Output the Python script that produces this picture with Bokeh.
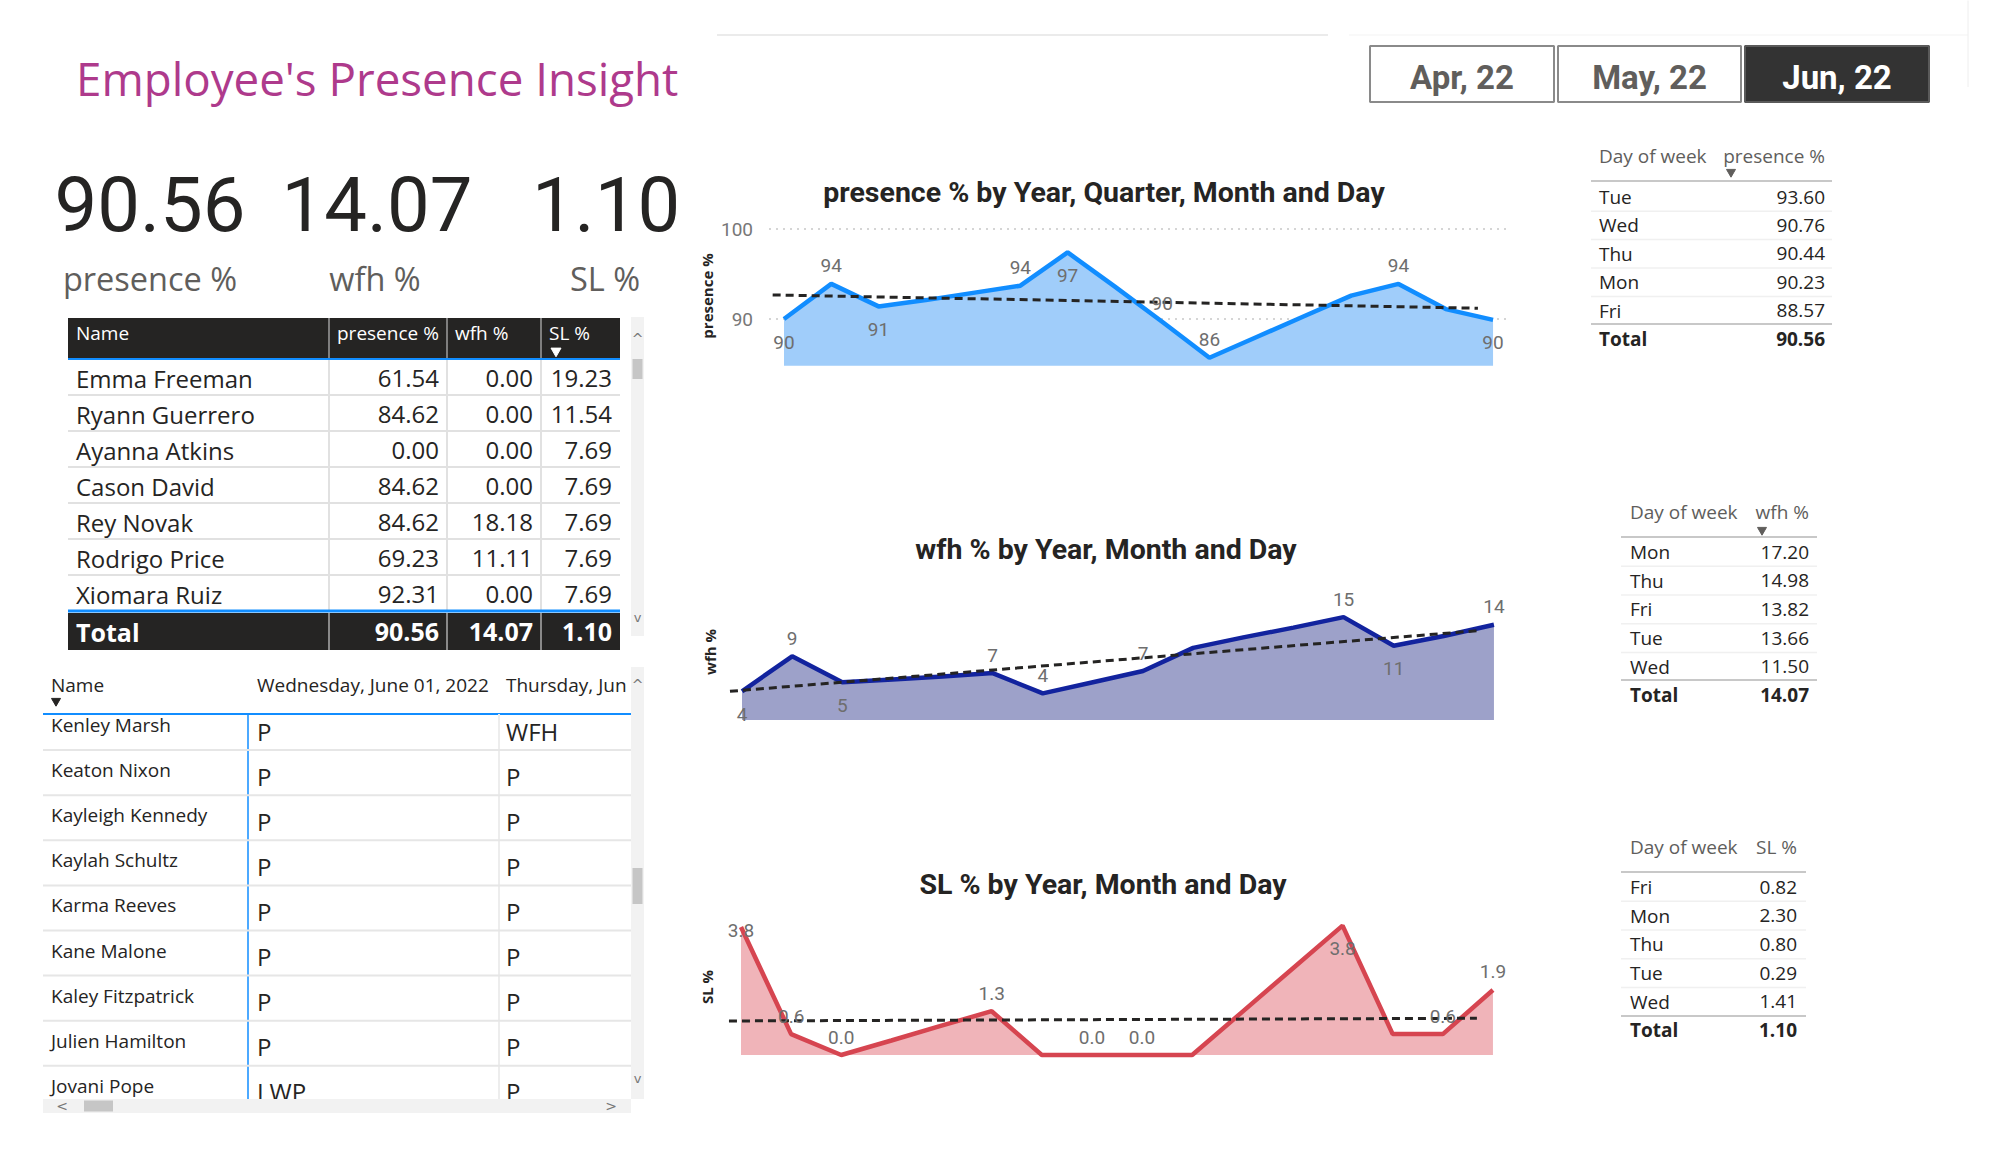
import numpy as np
from bokeh.plotting import figure
from bokeh.models import Range1d, ColumnDataSource
from bokeh.core.properties import value
from bokeh.embed import file_html
from bokeh.resources import INLINE

# ---------------- data ----------------
page_title = "Employee's Presence Insight"
months = ["Apr, 22", "May, 22", "Jun, 22"]
selected_month = "Jun, 22"

kpi_labels = ["presence %", "wfh %", "SL %"]
kpi_values = [90.56, 14.07, 1.10]

table1_headers = ["Name", "presence %", "wfh %", "SL %"]
emp_names = ["Emma Freeman", "Ryann Guerrero", "Ayanna Atkins", "Cason David",
             "Rey Novak", "Rodrigo Price", "Xiomara Ruiz"]
emp_presence = [61.54, 84.62, 0.00, 84.62, 84.62, 69.23, 92.31]
emp_wfh = [0.00, 0.00, 0.00, 0.00, 18.18, 11.11, 0.00]
emp_sl = [19.23, 11.54, 7.69, 7.69, 7.69, 7.69, 7.69]

matrix_header = "Name"
matrix_dates = ["Wednesday, June 01, 2022", "Thursday, June 02, 2022"]
matrix_names = ["Kenley Marsh", "Keaton Nixon", "Kayleigh Kennedy", "Kaylah Schultz",
                "Karma Reeves", "Kane Malone", "Kaley Fitzpatrick", "Julien Hamilton",
                "Jovani Pope"]
matrix_day1 = ["P", "P", "P", "P", "P", "P", "P", "P", "LWP"]
matrix_day2 = ["WFH", "P", "P", "P", "P", "P", "P", "P", "P"]

chart_titles = ["presence % by Year, Quarter, Month and Day",
                "wfh % by Year, Month and Day",
                "SL % by Year, Month and Day"]
pres_series = [90.0, 93.9, 91.4, 92.1, 92.9, 93.7, 97.4, 93.6,
               89.7, 85.7, 88.0, 90.3, 92.6, 93.9, 91.1, 89.9]
wfh_series = [4.1, 9.1, 5.4, 5.8, 6.2, 6.7, 3.8, 5.4,
              7.0, 10.3, 11.8, 13.2, 14.7, 10.6, 12.0, 13.6]
sl_series = [3.80, 0.62, 0.00, 0.43, 0.87, 1.30, 0.00, 0.00,
             0.00, 0.00, 1.28, 2.56, 3.84, 0.62, 0.62, 1.93]
pres_trend = [92.67, 91.2]
wfh_trend = [4.1, 12.76]
sl_trend = [1.01, 1.09]
trend_span = [-0.24, 14.68]
pres_ticks = [90, 100]
pres_axis_min = 84.8

pres_label_idx = [0, 1, 2, 5, 6, 8, 9, 13, 15]
pres_label_pos = ["b", "a", "b", "a", "b", "a", "a", "a", "b"]
wfh_label_idx = [0, 1, 2, 5, 6, 8, 12, 13, 15]
wfh_label_pos = ["b", "a", "b", "a", "a", "a", "a", "b", "a"]
sl_label_idx = [0, 1, 2, 5, 7, 8, 12, 14, 15]
sl_label_pos = ["c", "a", "a", "a", "a", "a", "b", "a", "a"]

dow_header = "Day of week"
dow_pres_days = ["Tue", "Wed", "Thu", "Mon", "Fri"]
dow_pres_vals = [93.60, 90.76, 90.44, 90.23, 88.57]
dow_wfh_days = ["Mon", "Thu", "Fri", "Tue", "Wed"]
dow_wfh_vals = [17.20, 14.98, 13.82, 13.66, 11.50]
dow_sl_days = ["Fri", "Mon", "Thu", "Tue", "Wed"]
dow_sl_vals = [0.82, 2.30, 0.80, 0.29, 1.41]

# ---------------- figure (coordinates = reference pixels) ----------------
FL, FT = 1.5, 1.5
FR, FB = FL + 1984, FT + 1140
p = figure(width=1984, height=1140, x_range=Range1d(FL, FR), y_range=Range1d(FB, FT),
           output_backend="svg", toolbar_location=None, min_border=0, title=None,
           x_axis_location=None, y_axis_location=None, outline_line_color=None,
           background_fill_color="white", border_fill_color="white")
p.grid.visible = False

DARK = "#252423"
GRAY = "#605E5C"
UI = "Open Sans"
DIN = "Roboto"


def T(xs, ys, texts, size, color=DARK, align="left", baseline="middle", font=UI,
      bold=False, angle=0.0, xr="default", yr="default", yoff=None):
    d = dict(x=list(xs), y=list(ys), t=list(texts))
    kw = {}
    if yoff is not None:
        d["yo"] = list(yoff)
        kw["y_offset"] = "yo"
    src = ColumnDataSource(d)
    p.text(x="x", y="y", text="t", source=src, text_font=value(font),
           text_font_size=f"{size}px", text_color=color, text_align=align,
           text_baseline=baseline, text_font_style="bold" if bold else "normal",
           angle=angle, x_range_name=xr, y_range_name=yr, **kw)


def rect(l, r, t, b, fill, line=None, lw=1.0):
    p.quad(left=[l], right=[r], top=[t], bottom=[b], fill_color=fill,
           line_color=line, line_width=lw)


def hline(x0, x1, y, color, w=1.0, dash="solid"):
    p.segment(x0=[x0], y0=[y], x1=[x1], y1=[y], line_color=color, line_width=w, line_dash=dash)


def vline(x, y0, y1, color, w=1.0):
    p.segment(x0=[x], y0=[y0], x1=[x], y1=[y1], line_color=color, line_width=w)


def scrollbar_v(x0, x1, y0, y1, th0, th1, up_y, down_y):
    rect(x0, x1, y0, y1, "#F2F2F2")
    rect(x0 + 1.5, x1 - 1.5, th0, th1, "#C6C6C6")
    T([(x0 + x1) / 2], [up_y], ["^"], 14, "#777777", align="center", font="DejaVu Sans")
    T([(x0 + x1) / 2], [down_y], ["v"], 13, "#777777", align="center", font="DejaVu Sans")


# ---------------- header ----------------
T([77], [79], [page_title], 45.7, "#AE3A8C")
hline(718, 1329, 36, "#E4E4E4", 1.5)
hline(1350, 1969, 36, "#F3F3F3", 1)
vline(1969, 0, 88, "#EEEEEE", 1)

btn_l = [1371, 1559, 1746]
btn_r = [1555, 1742, 1930]
for l, r, m in zip(btn_l, btn_r, months):
    sel = (m == selected_month)
    rect(l, r, 47, 103, "#333333" if sel else "white", "#5A5A5A" if sel else "#8A8A8A", 2)
    T([(l + r) / 2], [78], [m], 33, "white" if sel else GRAY, align="center",
      font=DIN, bold=True)

# ---------------- KPI cards ----------------
kpi_cx = [151, 378, 607]
T(kpi_cx, [205] * 3, [f"{v:.2f}" for v in kpi_values], 76, DARK, align="center", font=DIN)
T([151, 376, 606], [279] * 3, kpi_labels, 32.5, GRAY, align="center")

# ---------------- table 1 ----------------
cols = [69, 330, 448, 542, 621]
rect(cols[0], cols[-1], 319, 359, DARK)
T([c + 8 for c in cols[:4]], [334] * 4, table1_headers, 19, "white")
for c in cols[1:4]:
    vline(c, 319, 359, "#BDBDBD", 1.2)
p.scatter([557], [352], marker="inverted_triangle", size=10, color="white")
hline(cols[0], cols[-1], 360, "#118DFF", 2)
row_h = 36
n1 = len(emp_names)
for i in range(n1 - 1):
    hline(cols[0], cols[-1], 396 + row_h * i, "#E1E1E1", 2)
for c in cols[1:4]:
    vline(c, 361, 611, "#E1E1E1", 2)
ys1 = [379 + row_h * i for i in range(n1)]
val_right = [c - 8 for c in cols[2:]]
T([77] * n1, ys1, emp_names, 24)
T([val_right[0]] * n1, ys1, [f"{v:.2f}" for v in emp_presence], 24, align="right")
T([val_right[1]] * n1, ys1, [f"{v:.2f}" for v in emp_wfh], 24, align="right")
T([val_right[2]] * n1, ys1, [f"{v:.2f}" for v in emp_sl], 24, align="right")
hline(cols[0], cols[-1], 612, "#118DFF", 3)
rect(cols[0], cols[-1], 614, 651, DARK)
for c in cols[1:4]:
    vline(c, 614, 651, "#CFCFCF", 1.2)
T([77], [633], ["Total"], 25, "white", bold=True)
T(val_right, [633] * 3, [f"{v:.2f}" for v in kpi_values], 25, "white",
  align="right", bold=True)
scrollbar_v(632, 645, 318, 637, 360, 380, 340, 618)

# ---------------- table 2 (matrix) ----------------
T([52], [686], [matrix_header], 19)
p.scatter([57], [702], marker="inverted_triangle", size=9, color=DARK)
T([258, 507], [686, 686], matrix_dates, 19)
rect(628, 760, 668, 708, "white")
hline(44, 632, 715, "#118DFF", 2)
vline(249, 715, 1100, "#118DFF", 1.5)
vline(500, 715, 1100, "#EDEDED", 2)
m_h = 45.1
nm = len(matrix_names)
for i in range(nm - 1):
    hline(44, 632, 706 + m_h * (i + 1), "#E6E6E6", 2)
T([52] * nm, [726 + m_h * i for i in range(nm)], matrix_names, 19)
T([258] * nm, [732 + m_h * i for i in range(nm)], matrix_day1, 24)
T([507] * nm, [732 + m_h * i for i in range(nm)], matrix_day2, 24)
rect(36, 660, 1100, 1148, "white")
rect(44, 632, 1100, 1114, "#F2F2F2")
rect(85, 114, 1101.5, 1112.5, "#C6C6C6")
T([63, 612], [1107, 1107], ["<", ">"], 14, "#777777", align="center", font="DejaVu Sans")
scrollbar_v(632, 645, 668, 1100, 869, 905, 686, 1079)

# ---------------- right-hand day-of-week tables ----------------


def dow_table(x_txt, x_l, x_r, x_val, y_head, y_line, y_row0, dy, y_tl, y_tot,
              days, vals, metric, total, arrow):
    T([x_txt], [y_head], [dow_header], 19, GRAY)
    T([x_val], [y_head], [metric], 19, GRAY, align="right")
    if arrow is not None:
        p.scatter([arrow[0]], [arrow[1]], marker="inverted_triangle", size=9, color=GRAY)
    hline(x_l, x_r, y_line, "#C8C8C8", 2)
    n = len(days)
    ys = [y_row0 + dy * i for i in range(n)]
    for i in range(n - 1):
        hline(x_l, x_r, ys[i] + dy / 2, "#F0F0F0", 1.5)
    T([x_txt] * n, ys, days, 19, DARK)
    T([x_val] * n, ys, [f"{v:.2f}" for v in vals], 19, DARK, align="right")
    hline(x_l, x_r, y_tl, "#C8C8C8", 2)
    T([x_txt], [y_tot], ["Total"], 19, DARK, bold=True)
    T([x_val], [y_tot], [f"{total:.2f}"], 19, DARK, align="right", bold=True)


dow_table(1600, 1592, 1833, 1826, 157, 182, 198, 28.4, 325, 340,
          dow_pres_days, dow_pres_vals, "presence %", kpi_values[0], (1732, 173))
dow_table(1631, 1622, 1818, 1810, 513, 538, 553, 28.7, 681, 696,
          dow_wfh_days, dow_wfh_vals, "wfh %", kpi_values[1], (1763, 531))
dow_table(1631, 1622, 1807, 1798, 848, 873, 888, 28.7, 1017, 1031,
          dow_sl_days, dow_sl_vals, "SL %", kpi_values[2], None)

# ---------------- line / area charts ----------------
xr_all = {}
yr_all = {}


def add_ranges(key, x_first, x_step, ya_px, ya_v, yb_px, yb_v):
    xr_all[key + "x"] = Range1d((FL - x_first) / x_step, (FR - x_first) / x_step)
    s = (yb_v - ya_v) / (yb_px - ya_px)
    yr_all[key + "y"] = Range1d(ya_v + (FB - ya_px) * s, ya_v + (FT - ya_px) * s)


add_ranges("pres", 785, 47.27, 320, 90, 230, 100)
add_ranges("wfh", 743, 50.13, 721, 0, 651, 10)
add_ranges("sl", 742, 50.13, 1056, 0, 1022.3, 1)
p.extra_x_ranges = xr_all
p.extra_y_ranges = yr_all

OFF = {"a": -18, "b": 23, "c": 4}


def chart(key, title, title_xy, axis_title, axis_xy, series, base, trend, line_c, fill_c,
          lab_idx, lab_pos, fmt):
    xr, yr = key + "x", key + "y"
    idx = list(range(len(series)))
    T([title_xy[0]], [title_xy[1]], [title], 28.5, DARK, align="center", font=DIN, bold=True)
    T([axis_xy[0]], [axis_xy[1]], [axis_title], 15, DARK, align="center", bold=True,
      angle=np.pi / 2)
    p.varea(x=idx, y1=[base] * len(series), y2=series, fill_color=fill_c,
            x_range_name=xr, y_range_name=yr)
    p.line(idx, series, line_color=line_c, line_width=4.5, x_range_name=xr, y_range_name=yr)
    p.line(trend_span, trend, line_color=DARK, line_width=3, line_dash="8 5",
           x_range_name=xr, y_range_name=yr)
    T(lab_idx, [series[i] for i in lab_idx], [fmt(series[i]) for i in lab_idx], 19,
      "#6E6E6E", align="center", font=DIN, xr=xr, yr=yr, yoff=[OFF[q] for q in lab_pos])


# presence gridlines + ticks (under the area)
p.segment(x0=[770] * len(pres_ticks), x1=[1508] * len(pres_ticks), y0=pres_ticks, y1=pres_ticks,
          line_color="#C8C8C8", line_width=1.5, line_dash="2 5", y_range_name="presy")
T([754] * len(pres_ticks), pres_ticks, [str(t) for t in pres_ticks], 19, "#777777",
  align="right", font=DIN, yr="presy")

chart("pres", chart_titles[0], (1105, 193), "presence %", (708, 297), pres_series,
      pres_axis_min, pres_trend, "#118DFF", "#A0CDFA", pres_label_idx, pres_label_pos,
      lambda v: f"{v:.0f}")
chart("wfh", chart_titles[1], (1107, 550), "wfh %", (711, 653), wfh_series, 0,
      wfh_trend, "#12239E", "#9DA1C9", wfh_label_idx, wfh_label_pos,
      lambda v: f"{v:.0f}")
chart("sl", chart_titles[2], (1104, 885), "SL %", (708, 988), sl_series, 0,
      sl_trend, "#D64550", "#F0B4B9", sl_label_idx, sl_label_pos,
      lambda v: f"{v:.1f}")

open("out.html", "w").write(file_html(p, INLINE))
